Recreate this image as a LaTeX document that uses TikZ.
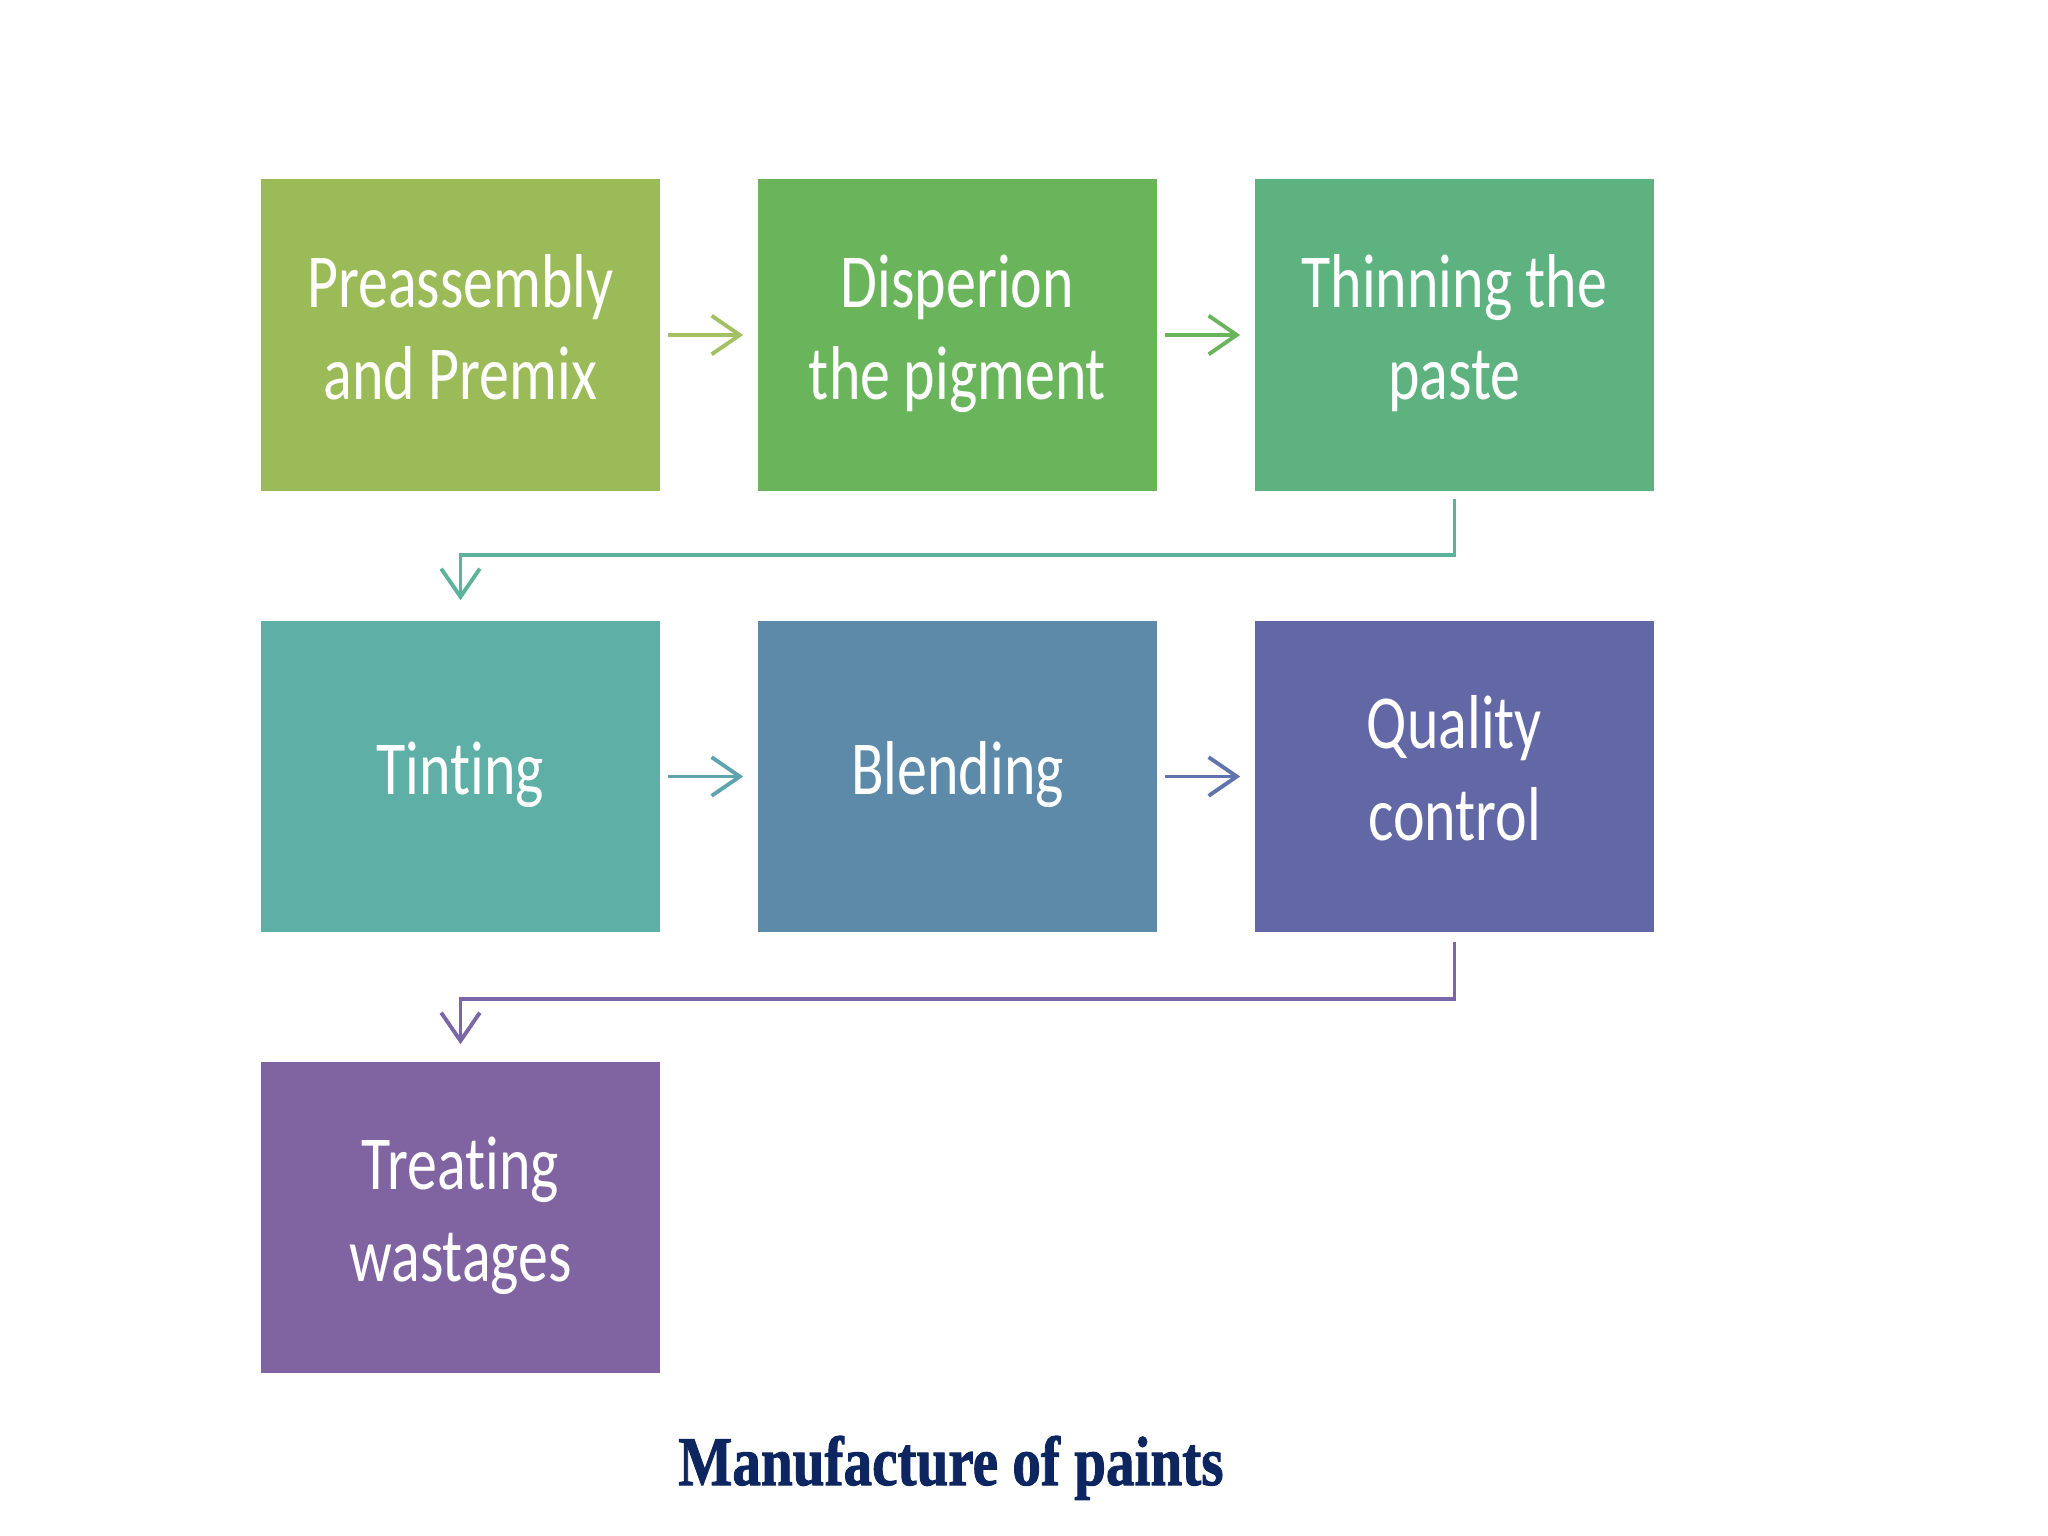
\documentclass[tikz,border=0pt]{standalone}
\usepackage{fontspec}
\setmainfont{Carlito}[Ligatures={NoCommon}]
\newfontfamily\titlefont[BoldFeatures={FakeBold=1.5}]{Liberation Serif}
\usetikzlibrary{arrows.meta,calc}
\definecolor{cA}{HTML}{9BBB59}
\definecolor{cB}{HTML}{6AB55B}
\definecolor{cC}{HTML}{5DB27F}
\definecolor{cD}{HTML}{5EAFA6}
\definecolor{cE}{HTML}{5E8AAA}
\definecolor{cF}{HTML}{6268A6}
\definecolor{cG}{HTML}{8064A2}
\definecolor{aA}{HTML}{A3C164}
\definecolor{aB}{HTML}{6AB55B}
\definecolor{aC}{HTML}{5DB39A}
\definecolor{aD}{HTML}{5FA3AE}
\definecolor{aE}{HTML}{5F74AC}
\definecolor{aF}{HTML}{7B66A8}
\definecolor{navy}{HTML}{0E2660}
\newcommand{\boxtext}[1]{\raisebox{-1.4pt}{\scalebox{0.8}[1.02]{\fontsize{21.3}{25.6}\selectfont\begin{tabular}{@{}c@{}}#1\end{tabular}}}}
\tikzset{
  stepbox/.style={rectangle, minimum width=3.99cm, minimum height=3.11cm, inner sep=0pt, text=white},
  flow/.style={line width=1.1pt, -{Straight Barb[length=8pt, width=11pt, line width=1.1pt]}},
}
\begin{document}
\begin{tikzpicture}[x=0.01cm, y=-0.01cm]
\useasboundingbox (0,0) rectangle (2048,1536);
\fill[white] (0,0) rectangle (2048,1536);
\node[stepbox, fill=cA] (n1) at (460.5,335) {\boxtext{Preassembly\\and Premix}};
\node[stepbox, fill=cB] (n2) at (957.5,335) {\boxtext{Disperion\\the pigment}};
\node[stepbox, fill=cC] (n3) at (1454.5,335) {\boxtext{Thinning the\\paste}};
\node[stepbox, fill=cD] (n4) at (460.5,776.5) {\boxtext{Tinting}};
\node[stepbox, fill=cE] (n5) at (957.5,776.5) {\boxtext{Blending}};
\node[stepbox, fill=cF] (n6) at (1454.5,776.5) {\boxtext{Quality\\control}};
\node[stepbox, fill=cG] (n7) at (460.5,1217.5) {\boxtext{Treating\\wastages}};
\node[text=navy, anchor=base] (title) at (951,1485) {\scalebox{0.86}[1.05]{\titlefont\bfseries\fontsize{18.9}{22}\selectfont Manufacture of paints}};
\draw[flow, aA] ($(n1.east)+(7,0)$) -- ($(n2.west)+(-14,0)$);
\draw[flow, aB] ($(n2.east)+(7,0)$) -- ($(n3.west)+(-14,0)$);
\draw[flow, aC] ($(n3.south)+(0,8)$) -- ++(0,56) -| ($(n4.north)+(0,-20)$);
\draw[flow, aD] ($(n4.east)+(7,0)$) -- ($(n5.west)+(-14,0)$);
\draw[flow, aE] ($(n5.east)+(7,0)$) -- ($(n6.west)+(-14,0)$);
\draw[flow, aF] ($(n6.south)+(0,9)$) -- ++(0,57) -| ($(n7.north)+(0,-17)$);
\end{tikzpicture}
\end{document}
